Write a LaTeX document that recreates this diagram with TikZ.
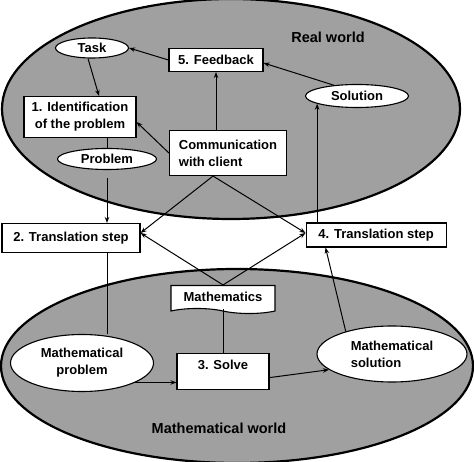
\documentclass[tikz,border=0pt]{standalone}
\usepackage{fontspec}
\setmainfont{Liberation Sans}
\usepackage{xcolor}
\usepackage{tikz}
\usetikzlibrary{shapes.geometric,shapes.symbols,arrows.meta,positioning,calc}
\definecolor{worldgray}{RGB}{160,160,160}

\begin{document}
\begin{tikzpicture}[x=1pt, y=-1pt,
        block/.style={draw, rectangle, fill=white, line width=1.1pt, inner sep=0pt, align=center,
            font=\bfseries\fontsize{13}{17}\selectfont},
        oval/.style={draw, ellipse, fill=white, line width=1.1pt, inner sep=0pt, align=center,
            font=\bfseries\fontsize{13}{17}\selectfont},
        world/.style={draw, line width=2.2pt, fill=worldgray},
        worldlabel/.style={font=\bfseries\fontsize{14.5}{17}\selectfont},
        link/.style={line width=1pt},
        >={Stealth[length=6pt,width=4.5pt]}
    ]
        \useasboundingbox (0,0) rectangle (474,462);
        \clip (0,0) rectangle (474,462);

        % Worlds
        \draw [world] (231,109) ellipse [x radius=229pt, y radius=110pt];
        \draw [world] (237,366) ellipse [x radius=236pt, y radius=97pt];
        \node [worldlabel] (realw) at (328,37) {Real world};
        \node [worldlabel] (mathw) at (219,428) {Mathematical world};

        % Real world blocks
        \node [oval, minimum width=73pt, minimum height=20pt] (task) at (92,48) {Task};
        \node [block, minimum width=94pt, minimum height=23pt] (feedback) at (216,60) {5. Feedback};
        \node [oval, minimum width=103pt, minimum height=23pt] (solution) at (357,96) {Solution};
        \node [block, minimum width=112pt, minimum height=41pt] (ident) at (80,117) {1. Identification\\of the problem};
        \node [oval, minimum width=99pt, minimum height=21pt] (problem) at (107,159) {Problem};
        \node [block, align=left, inner xsep=7pt, minimum width=117pt, minimum height=45pt] (comm) at (228,153) {Communication\\with client};

        % Translation steps
        \node [block, minimum width=138pt, minimum height=29pt] (trans2) at (71,238) {2. Translation step};
        \node [block, minimum width=140pt, minimum height=24pt, right=165pt of trans2, yshift=3pt] (trans4) {4. Translation step};

        % Mathematical world blocks
        \node [block, tape, tape bend top=none, tape bend bottom=out and in, tape bend height=5pt,
            minimum width=104pt, minimum height=28pt] (math) at (223,297) {Mathematics};
        \node [oval, minimum width=143pt, minimum height=57pt] (mathprob) at (82,363) {Mathematical\\problem};
        \node [block, text depth=14pt, minimum width=92pt, minimum height=36pt, below=44pt of math] (solve) {3. Solve};
        \node [oval, align=left, minimum width=150pt, minimum height=56pt] (mathsol) at (392,354) {Mathematical\\solution};

        % Connections
        \draw [link, ->] (feedback.west) -- (task.east);
        \draw [link, ->] ([xshift=-4pt]task.south) -- ([xshift=19pt]ident.north);
        \draw [link, ->] (solution.155) -- ([yshift=-3pt]feedback.east);
        \draw [link, ->] (comm.north -| feedback.south) -- (feedback.south);
        \draw [link, ->] (comm.west) -- ([yshift=-5pt]ident.east);
        \draw [link] (ident.south -| problem.north) -- (problem.north);
        \draw [link, ->] ([yshift=-8pt]problem.south) -- (trans2.north -| problem.south);
        \coordinate (commfoot) at ([xshift=-15pt]comm.south);
        \draw [link, ->] (commfoot) -- ([yshift=5pt]trans2.east);
        \draw [link, ->] (commfoot) -- ([yshift=2pt]trans4.west);
        \draw [link, ->] (math.north) -- ([yshift=5pt]trans2.east);
        \draw [link, ->] (math.north) -- ([yshift=2pt]trans4.west);
        \draw [link, ->] (trans4.north -| solution.191) -- (solution.191);
        \draw [link] (trans2.south -| problem.south) -- (problem.south |- mathprob.north);
        \draw [link] (math.south) -- (math.south |- solve.north);
        \draw [link, ->] (mathprob.-20) -- (mathprob.-20 -| solve.west);
        \draw [link, ->] ([yshift=-6pt]solve.east) -- (mathsol.194);
        \draw [link, ->] (mathsol.154) -- ([xshift=20pt]trans4.south west);
\end{tikzpicture}
\end{document}
